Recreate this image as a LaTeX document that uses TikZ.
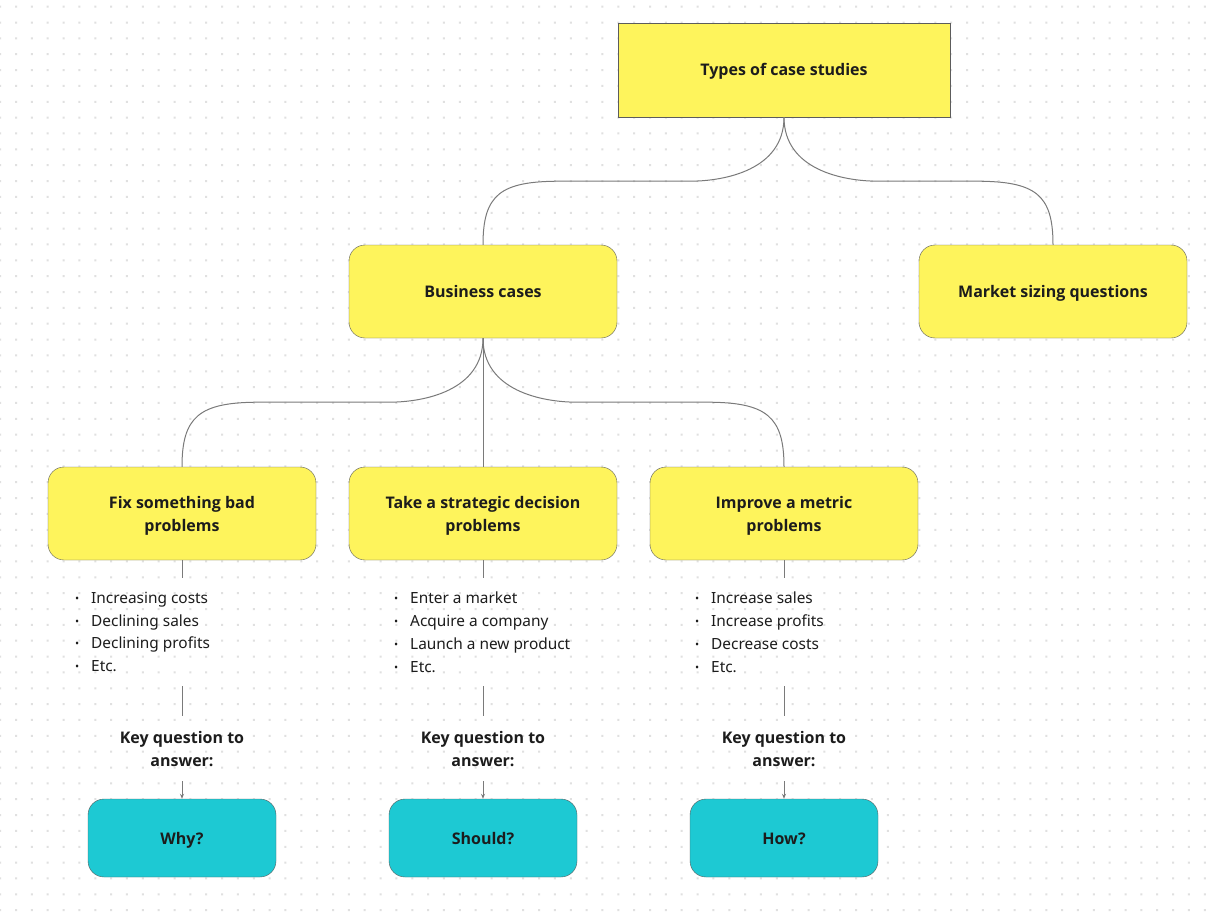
\documentclass[tikz,border=0pt]{standalone}
\usepackage{fontspec}
\setmainfont{Noto Sans}
\newfontfamily\casebf{Open Sans}
\usetikzlibrary{arrows.meta,calc}
\definecolor{caseyel}{HTML}{FEF45C}
\definecolor{caseteal}{HTML}{1DC9D3}
\definecolor{caseline}{HTML}{7A7A7A}
\definecolor{caseedge}{HTML}{5C5C5C}
\definecolor{casetext}{HTML}{1C1C1C}
\definecolor{casedot}{HTML}{E0E0E0}
\newcommand\casefont{\fontsize{15.4}{22.7}\selectfont}
\newcommand\headfont{\casebf\fontsize{16}{23}\selectfont\bfseries}
\newcommand\headstrut{\rule[-4pt]{0pt}{20pt}}
\newcommand\twoline[2]{\headstrut#1\\#2\headstrut}
\newcommand\itm[1]{\makebox[16pt][l]{\fontsize{11}{11}\selectfont\raisebox{1pt}{•}}#1}
\tikzset{
  head/.style    = {font=\headfont, text=casetext, align=center, execute at begin node=\headstrut, execute at end node=\headstrut},
  rootbox/.style = {head, rectangle, draw=caseedge, fill=caseyel, minimum width=332pt, minimum height=94pt},
  typebox/.style = {head, rectangle, rounded corners=16pt, draw=caseedge, fill=caseyel, minimum width=268pt, minimum height=93pt},
  ansbox/.style  = {typebox, fill=caseteal, minimum width=188pt, minimum height=78pt},
  items/.style   = {align=left, inner xsep=0, inner ysep=14pt, anchor=north west, font=\casefont, text=casetext},
  keyq/.style    = {head, inner xsep=0, inner ysep=11pt},
  link/.style    = {draw=caseline, line width=1pt},
  tip/.style     = {link, -{Stealth[length=5pt,width=4pt]}}
}

\begin{document}
\begin{tikzpicture}[x=1pt, y=-1pt]
  \useasboundingbox (0,0) rectangle (1218,923);
  \fill[white] (0,0) rectangle (1218,923);
  % dotted canvas
  \fill[casedot] \foreach \i in {-1,...,75} {\foreach \j in {0,...,57} {(15+15.85*\i, 5.7+15.85*\j) rectangle ++(2,2)}};

  % boxes
  \node[rootbox] (types) at (784,70)    {Types of case studies};
  \node[typebox] (biz)   at (483,291.5) {Business cases};
  \node[typebox] (msq)   at (1053,291.5){Market sizing questions};
  \node[typebox] (fix)   at (182,513.5) {\twoline{Fix something bad}{problems}};
  \node[typebox] (strat) at (483,513.5) {\twoline{Take a strategic decision}{problems}};
  \node[typebox] (impr)  at (784,513.5) {\twoline{Improve a metric}{problems}};

  % curved branches
  \coordinate (t1) at ($(types.south)+(-94,64)$); \coordinate (t2) at ($(biz.north |- t1)+(77,0)$);
  \coordinate (t3) at ($(types.south)+(94,64)$);  \coordinate (t4) at ($(msq.north |- t3)+(-77,0)$);
  \draw[link] (types.south) .. controls +(0,53) and +(34,0) .. (t1) -- (t2) .. controls +(-60,0) and +(0,-50) .. (biz.north);
  \draw[link] (types.south) .. controls +(0,53) and +(-34,0) .. (t3) -- (t4) .. controls +(60,0) and +(0,-50) .. (msq.north);
  \coordinate (b1) at ($(biz.south)+(-94,64)$); \coordinate (b2) at ($(fix.north |- b1)+(77,0)$);
  \coordinate (b3) at ($(biz.south)+(94,64)$);  \coordinate (b4) at ($(impr.north |- b3)+(-77,0)$);
  \draw[link] (biz.south) .. controls +(0,53) and +(34,0) .. (b1) -- (b2) .. controls +(-60,0) and +(0,-50) .. (fix.north);
  \draw[link] (biz.south) .. controls +(0,53) and +(-34,0) .. (b3) -- (b4) .. controls +(60,0) and +(0,-50) .. (impr.north);
  \draw[link] (biz.south) -- (strat.north);

  % lists
  \node[items] (fixl)   at (75,578)  {\itm{Increasing costs}\\\itm{Declining sales}\\\itm{Declining profits}\\\itm{Etc.}};
  \node[items] (stratl) at (394,578) {\itm{Enter a market}\\\itm{Acquire a company}\\\itm{Launch a new product}\\\itm{Etc.}};
  \node[items] (imprl)  at (695,578) {\itm{Increase sales}\\\itm{Increase profits}\\\itm{Decrease costs}\\\itm{Etc.}};

  % key questions
  \node[keyq] (fixk)   at (182,748.5) {\twoline{Key question to}{answer:}};
  \node[keyq] (stratk) at (483,748.5) {\twoline{Key question to}{answer:}};
  \node[keyq] (imprk)  at (784,748.5) {\twoline{Key question to}{answer:}};
  \node[ansbox] (why)    at (182,838) {Why?};
  \node[ansbox] (should) at (483,838) {Should?};
  \node[ansbox] (how)    at (784,838) {How?};

  \foreach \b in {fix,strat,impr}{
    \draw[link] (\b.south) -- (\b.south |- \b l.north);
    \draw[link] (\b.south |- \b l.south) -- (\b k.north);
  }
  \draw[tip] (fixk.south)   -- (why.north);
  \draw[tip] (stratk.south) -- (should.north);
  \draw[tip] (imprk.south)  -- (how.north);
\end{tikzpicture}
\end{document}
